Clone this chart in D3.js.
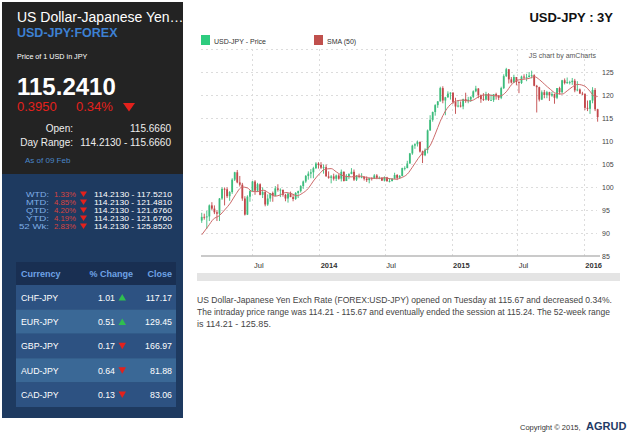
<!DOCTYPE html>
<html><head><meta charset="utf-8">
<script src="https://cdn.jsdelivr.net/npm/d3@7"></script>
<style>html,body{margin:0;padding:0;background:#fff;} svg{display:block;font-family:"Liberation Sans",Arial,sans-serif;}</style>
</head><body><svg id="c" width="638" height="440"></svg>
<script>
// ---------- DATA ----------
const firstWeek = "2013-02-11"; // weekly candles, Monday start
const priceOHLC = [
// 2013
[92.7,94.4,92.2,93.5],[93.5,94.2,92.9,93.4],[93.4,94.8,90.9,93.6],[93.6,96.2,92.6,96.0],[96.0,96.7,95.0,95.3],
[95.3,96.0,94.1,94.5],[94.5,94.9,92.6,94.2],[94.2,97.6,92.6,97.5],[97.5,99.9,97.2,99.6],[99.6,99.9,96.0,99.5],
[99.5,99.9,97.6,98.0],[98.0,99.1,97.0,98.9],[98.9,101.9,98.5,101.6],[101.6,103.3,101.3,103.2],[103.2,103.7,100.8,101.0],
[101.0,102.4,100.1,100.5],[100.5,100.9,97.0,97.5],[97.5,98.0,93.8,94.0],[94.0,98.2,93.9,97.9],[97.9,99.3,96.8,99.1],
[99.1,101.3,99.0,101.2],[101.2,101.5,98.3,99.2],[99.2,100.9,98.9,100.6],[100.6,100.8,98.2,98.3],[98.3,99.9,97.6,98.9],
[98.9,99.2,95.8,96.2],[96.2,98.4,95.9,97.5],[97.5,98.6,96.8,98.7],[98.7,99.0,96.8,98.1],[98.1,100.2,98.0,99.7],
[99.7,100.6,99.0,99.4],[99.4,99.7,97.8,99.4],[99.4,99.4,97.9,98.3],[98.3,98.5,96.9,97.5],[97.5,98.6,96.6,98.6],
[98.6,99.0,97.8,97.8],[97.8,98.5,96.9,97.4],[97.4,98.9,97.2,98.7],[98.7,99.2,97.6,99.1],[99.1,100.4,98.8,100.2],
[100.2,101.4,99.6,101.2],[101.2,102.6,100.9,102.4],[102.4,103.4,101.6,102.9],[102.9,103.9,101.9,103.2],[103.2,104.4,101.9,104.1],
[104.1,105.4,103.9,105.1],[105.1,105.4,104.0,104.8],
// 2014
[104.8,105.4,103.9,104.2],[104.2,104.9,102.9,104.3],[104.3,104.9,102.3,102.3],[102.3,103.4,101.8,102.0],[102.0,102.6,100.8,102.3],
[102.3,102.9,101.4,101.8],[101.8,102.7,101.3,102.5],[102.5,102.8,101.6,101.8],[101.8,103.8,101.2,103.3],[103.3,103.4,101.2,101.3],
[101.3,102.8,101.3,102.3],[102.3,103.0,101.7,102.8],[102.8,104.1,102.8,103.3],[103.3,103.8,101.3,101.6],[101.6,102.6,101.3,102.4],
[102.4,102.9,101.9,102.2],[102.2,103.0,101.9,102.2],[102.2,102.3,101.4,101.8],[101.8,102.3,101.1,101.5],[101.5,102.0,100.8,101.9],
[101.9,102.1,101.4,101.8],[101.8,102.8,101.8,102.5],[102.5,102.8,101.7,102.0],[102.0,102.3,101.7,102.0],[102.0,102.1,101.3,101.4],
[101.4,102.3,101.2,102.1],[102.1,102.2,101.1,101.3],[101.3,101.9,101.0,101.3],[101.3,101.9,101.2,101.8],[101.8,103.1,101.8,102.6],
[102.6,102.8,101.5,102.0],[102.0,102.6,102.0,102.4],[102.4,104.2,102.3,104.1],[104.1,104.5,103.6,104.1],[104.1,105.7,104.1,105.1],
[105.1,107.4,105.1,107.3],[107.3,109.2,107.0,109.0],[109.0,109.5,108.3,109.3],[109.3,110.1,108.8,109.8],[109.8,109.9,107.5,107.7],
[107.7,107.9,105.2,106.9],[106.9,108.4,106.7,108.1],[108.1,112.5,107.3,112.3],[112.3,115.6,112.2,114.6],[114.6,116.4,114.2,116.3],
[116.3,118.0,115.5,117.8],[117.8,118.7,117.2,118.6],[118.6,121.8,118.6,121.5],[121.5,121.9,118.2,118.8],[118.8,119.6,115.6,119.5],
[119.5,120.8,119.4,120.3],[120.3,120.6,119.0,120.5],
// 2015
[120.5,120.6,118.1,118.5],[118.5,119.4,115.9,117.5],[117.5,118.9,117.3,117.7],[117.7,118.6,117.3,117.5],[117.5,119.2,116.9,119.1],
[119.1,120.5,118.3,118.7],[118.7,119.6,118.2,119.0],[119.0,119.7,118.5,119.6],[119.6,121.0,119.3,120.8],[120.8,122.0,120.6,121.4],
[121.4,121.5,119.3,120.0],[120.0,120.1,118.3,119.1],[119.1,120.4,118.7,119.0],[119.0,120.7,118.8,120.2],[120.2,120.4,118.7,118.9],
[118.9,120.1,118.8,118.9],[118.9,120.0,118.5,120.2],[120.2,120.5,119.0,119.8],[119.8,120.0,118.9,119.4],[119.4,121.8,119.1,121.5],
[121.5,124.5,121.3,124.1],[124.1,125.9,123.9,125.6],[125.6,125.6,122.5,123.4],[123.4,123.9,122.5,122.7],[122.7,124.4,122.6,123.9],
[123.9,123.9,122.1,122.8],[122.8,123.0,120.4,122.6],[122.6,124.2,122.4,124.0],[124.0,124.5,123.4,123.8],[123.8,124.6,123.0,123.9],
[123.9,125.0,123.8,124.2],[124.2,125.3,123.6,124.3],[124.3,124.5,121.9,122.0],[122.0,122.2,116.2,121.7],[121.7,121.8,118.6,119.0],
[119.0,121.0,118.9,120.6],[120.6,121.1,119.3,120.0],[120.0,120.9,119.3,120.6],[120.6,120.7,118.7,119.9],[119.9,120.7,119.6,120.2],
[120.2,120.3,118.1,119.4],[119.4,121.5,119.1,121.5],[121.5,121.8,120.1,120.6],[120.6,123.3,120.3,123.2],[123.2,123.6,122.3,122.6],
[122.6,123.8,122.4,122.8],[122.8,123.1,122.3,122.8],[122.8,123.7,122.2,123.1],[123.1,123.5,120.6,121.0],[121.0,123.0,120.8,121.2],
[121.2,121.4,120.3,120.3],[120.3,120.7,120.0,120.2],
// 2016
[120.2,120.4,116.7,117.2],[117.2,118.8,116.5,117.0],[117.0,118.9,115.9,118.8],[118.8,121.7,118.2,121.1],[121.1,121.5,116.5,116.9],
[116.9,117.0,114.2,115.2]
];
const smaDates = ["2013-02-11","2013-03-01","2013-03-15","2013-04-01","2013-04-15","2013-05-01","2013-05-15","2013-06-03","2013-06-17",
"2013-07-01","2013-07-15","2013-08-01","2013-08-15","2013-09-02","2013-09-16","2013-10-01","2013-10-15","2013-11-01","2013-11-15",
"2013-12-02","2013-12-16","2014-01-02","2014-01-15","2014-02-03","2014-02-17","2014-03-03","2014-03-17","2014-04-01","2014-04-15",
"2014-05-01","2014-05-15","2014-06-02","2014-06-16","2014-07-01","2014-07-15","2014-08-01","2014-08-15","2014-09-01","2014-09-15",
"2014-10-01","2014-10-15","2014-11-03","2014-11-17","2014-12-01","2014-12-15","2015-01-02","2015-01-15","2015-02-02","2015-02-16",
"2015-03-02","2015-03-16","2015-04-01","2015-04-15","2015-05-01","2015-05-15","2015-06-01","2015-06-15","2015-07-01","2015-07-15",
"2015-08-03","2015-08-17","2015-09-01","2015-09-15","2015-10-01","2015-10-15","2015-11-02","2015-11-16","2015-12-01","2015-12-15",
"2016-01-04","2016-01-18","2016-02-01","2016-02-08"];
const smaValues = [89.6,91.5,93.0,93.8,95.0,96.5,98.3,100.0,99.8,
99.0,99.0,99.3,98.7,98.0,98.3,98.8,98.6,98.1,98.6,
99.7,101.3,102.9,103.8,104.0,103.3,102.6,102.3,102.2,102.4,
102.3,102.0,101.9,101.9,102.0,101.8,101.7,102.0,102.8,104.3,
106.2,107.6,109.0,111.5,114.3,116.5,118.2,118.7,118.9,118.7,
118.9,119.6,120.0,120.0,119.8,119.8,120.7,122.2,123.2,123.4,
123.6,124.0,123.3,122.3,121.2,120.4,120.2,120.9,121.8,122.3,
121.9,120.8,119.6,119.7];
const yTicks = [85,90,95,100,105,110,115,120,125];
const yGridTop = 130;
const xTickDates = ["2013-07-01","2014-01-01","2014-07-01","2015-01-01","2015-07-01","2016-01-01"];
const xTickLabels = ["Jul","2014","Jul","2015","Jul","2016"];
const xTickBold = [false,true,false,true,false,true];
const statLabels = ["WTD:","MTD:","QTD:","YTD:","52 Wk:"];
const statPct = ["1.33%","4.85%","4.20%","4.19%","2.83%"];
const statRange = ["114.2130 - 117.5210","114.2130 - 121.4810","114.2130 - 121.6760","114.2130 - 121.6760","114.2130 - 125.8520"];
const tblCurrency = ["CHF-JPY","EUR-JPY","GBP-JPY","AUD-JPY","CAD-JPY"];
const tblChange = [1.01,0.51,0.17,0.64,0.13];
const tblUp = [true,true,false,false,false];
const tblClose = [117.17,129.45,166.97,81.88,83.06];
const paragraph = [
 "US Dollar-Japanese Yen Exch Rate (FOREX:USD-JPY) opened on Tuesday at 115.67 and decreased 0.34%.",
 "The intraday price range was 114.21 - 115.67 and eventually ended the session at 115.24. The 52-week range",
 "is 114.21 - 125.85."];

// ---------- DRAW ----------
const svg = d3.select("#c");
svg.append("rect").attr("width",638).attr("height",440).attr("fill","#fff");

function tri(g, x, y, w, h, up, color){
  const pts = up ? [[x,y+h],[x+w,y+h],[x+w/2,y]] : [[x,y],[x+w,y],[x+w/2,y+h]];
  g.append("polygon").attr("points", pts.map(p=>p.join(",")).join(" ")).attr("fill",color);
}
function txt(g, x, y, s, o){
  o = o||{};
  const t = g.append("text").attr("x",x).attr("y",y).text(s)
    .attr("font-size",o.size||10).attr("fill",o.fill||"#000");
  if(o.weight) t.attr("font-weight",o.weight);
  if(o.anchor) t.attr("text-anchor",o.anchor);
  if(o.len) t.attr("textLength",o.len).attr("lengthAdjust","spacingAndGlyphs");
  return t;
}

// Left panel
const L = svg.append("g");
L.append("rect").attr("x",2).attr("y",2).attr("width",181).attr("height",172).attr("fill","#232323");
L.append("rect").attr("x",2).attr("y",174).attr("width",181).attr("height",244).attr("fill","#1e3a60");
txt(L,17,22,"US Dollar-Japanese Yen…",{size:14,fill:"#fff"});
txt(L,17,37,"USD-JPY:FOREX",{size:12.5,fill:"#3d80d2",weight:"bold"});
txt(L,17,59,"Price of 1 USD in JPY",{size:7.2,fill:"#fff"});
txt(L,17,95,"115.2410",{size:24,fill:"#fff",weight:"bold"});
txt(L,17,111,"0.3950",{size:13,fill:"#e3211c"});
txt(L,76,111,"0.34%",{size:13,fill:"#e3211c"});
tri(L,123,103,12,8.5,false,"#e3211c");
txt(L,73,132,"Open:",{size:10,fill:"#eee",anchor:"end"});
txt(L,171,132,"115.6660",{size:10,fill:"#eee",anchor:"end"});
txt(L,73,146,"Day Range:",{size:10,fill:"#eee",anchor:"end"});
txt(L,171,146,"114.2130 - 115.6660",{size:10,fill:"#eee",anchor:"end"});
txt(L,25,163,"As of 09 Feb",{size:8,fill:"#4a86c8"});

statLabels.forEach((s,i)=>{
  const y = 197 + i*8;
  const lw = s.length > 4 ? 30 : 23;
  txt(L,49-lw,y,s,{size:7.5,fill:"#7eaee6",len:lw});
  txt(L,54,y,statPct[i],{size:7.5,fill:"#d9443f",len:22});
  tri(L,80,y-5.5,7,5.5,false,"#e3211c");
  txt(L,94,y,statRange[i],{size:7.5,fill:"#fff",len:78});
});

// table
const rowH = 24.4, tblTop = 285;
L.append("rect").attr("x",16).attr("y",262).attr("width",160).attr("height",23).attr("fill","#192f52");
txt(L,21,277,"Currency",{size:9,fill:"#6fa3e6",weight:"bold"});
txt(L,133,277,"% Change",{size:9,fill:"#6fa3e6",weight:"bold",anchor:"end"});
txt(L,172,277,"Close",{size:9,fill:"#6fa3e6",weight:"bold",anchor:"end"});
tblCurrency.forEach((c,i)=>{
  const y0 = tblTop + i*rowH;
  L.append("rect").attr("x",16).attr("y",y0).attr("width",160).attr("height",rowH)
    .attr("fill", i%2===0 ? "#2d5282" : "#3a6896");
  const by = y0 + rowH/2 + 3.3;
  txt(L,21,by,c,{size:8.8,fill:"#fff"});
  txt(L,115,by,tblChange[i].toFixed(2),{size:8.8,fill:"#fff",anchor:"end"});
  tri(L,118.5,by-6.5,7.5,6.5,tblUp[i],tblUp[i]?"#2fbf4f":"#e3211c");
  txt(L,172,by,tblClose[i].toFixed(2),{size:8.8,fill:"#fff",anchor:"end"});
});

// Right: chart
const R = svg.append("g");
txt(R,613,22,"USD-JPY : 3Y",{size:13,fill:"#111",weight:"bold",anchor:"end"});
R.append("rect").attr("x",201).attr("y",35).attr("width",9).attr("height",10).attr("fill","#2ecc7f");
txt(R,214,44,"USD-JPY - Price",{size:7,fill:"#333"});
R.append("rect").attr("x",314).attr("y",35).attr("width",9).attr("height",10).attr("fill","#c0504d");
txt(R,327,44,"SMA (50)",{size:7,fill:"#333"});

const parse = d3.timeParse("%Y-%m-%d");
const x = d3.scaleTime().domain([parse("2013-02-09"), parse("2016-02-09")]).range([201, 598]);
const y = d3.scaleLinear().domain([85, yGridTop]).range([256, 49]);
const plotL = 201, plotR = 597;

// horizontal grid
R.append("g").selectAll("line").data(yTicks.concat([yGridTop]).filter(v=>v!==85)).join("line")
  .attr("x1",plotL).attr("x2",plotR).attr("y1",d=>Math.round(y(d))+0.5).attr("y2",d=>Math.round(y(d))+0.5)
  .attr("stroke","#dcdcdc").attr("stroke-dasharray","2,3");
// vertical grid
const xt = xTickDates.map(parse);
R.append("g").selectAll("line").data(xt).join("line")
  .attr("x1",d=>Math.round(x(d))+0.5).attr("x2",d=>Math.round(x(d))+0.5).attr("y1",49).attr("y2",256)
  .attr("stroke","#dcdcdc").attr("stroke-dasharray","2,3");

txt(R,596,57.5,"JS chart by amCharts",{size:7,fill:"#555",anchor:"end"});

// y labels
R.append("g").selectAll("text").data(yTicks).join("text")
  .attr("x",602).attr("y",d=>y(d)+2.5).text(d=>d).attr("font-size",7).attr("fill","#444");
// x axis line
R.append("line").attr("x1",plotL).attr("x2",600).attr("y1",256).attr("y2",256).attr("stroke","#b8b8b8").attr("stroke-width",1.5);
// x labels
R.append("g").selectAll("text").data(xt).join("text")
  .attr("x",d=>x(d)+1.5).attr("y",268).text((d,i)=>xTickLabels[i])
  .attr("font-size",7.5).attr("fill","#333").attr("font-weight",(d,i)=>xTickBold[i]?"bold":"normal");

// candles
const t0 = parse(firstWeek);
const candles = priceOHLC.map((v,i)=>({date:d3.timeDay.offset(t0, i*7), o:v[0], h:v[1], l:v[2], c:v[3]}));
const cg = R.append("g");
const up = "#3cbc7c", dn = "#c2474a";
cg.selectAll("line").data(candles).join("line")
  .attr("x1",d=>x(d.date)).attr("x2",d=>x(d.date)).attr("y1",d=>y(d.h)).attr("y2",d=>y(d.l))
  .attr("stroke",d=>d.c>=d.o?up:dn).attr("stroke-width",0.9);
cg.selectAll("rect").data(candles).join("rect")
  .attr("x",d=>x(d.date)-0.9).attr("width",1.8)
  .attr("y",d=>y(Math.max(d.o,d.c))).attr("height",d=>Math.max(0.8, Math.abs(y(d.o)-y(d.c))))
  .attr("fill",d=>d.c>=d.o?up:dn);

// SMA line
const sma = smaDates.map((d,i)=>({date:parse(d), v:smaValues[i]}));
R.append("path").datum(sma).attr("fill","none").attr("stroke","#cc6a6a").attr("stroke-width",1)
  .attr("d", d3.line().x(d=>x(d.date)).y(d=>y(d.v)).curve(d3.curveMonotoneX));

// scrollbar
R.append("rect").attr("x",197).attr("y",273).attr("width",423).attr("height",8).attr("fill","#e4e4e4");

// paragraph
const targetW = [415, 413, null];
paragraph.forEach((s,i)=>{
  const t = txt(R,197,303+i*12.2,s,{size:9,fill:"#444"});
  if(targetW[i]) t.attr("textLength",targetW[i]).attr("lengthAdjust","spacingAndGlyphs");
});

// copyright
txt(R,520,430,"Copyright © 2015,",{size:7.5,fill:"#333"});
txt(R,586,430,"AGRUD",{size:11,fill:"#1f3a66",weight:"bold"});
</script></body></html>
